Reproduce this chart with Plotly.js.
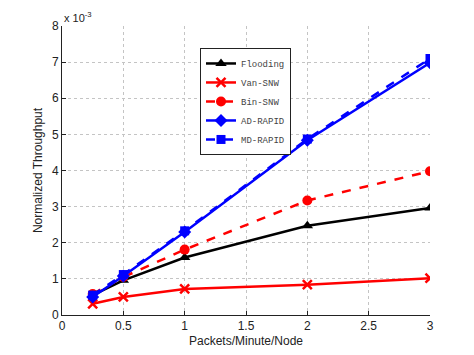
<!DOCTYPE html>
<html>
<head>
<meta charset="utf-8">
<script src="https://cdn.plot.ly/plotly-3.0.1.min.js"></script>
<style>html,body{margin:0;padding:0;background:#fff;}#chart{width:474px;height:355px;}</style>
</head>
<body>
<div id="chart"></div>
<script>
const xValues = [0.25, 0.5, 1, 2, 3];
const flooding = [0.55, 0.96, 1.59, 2.47, 2.96];
const vanSNW = [0.31, 0.5, 0.72, 0.84, 1.02];
const binSNW = [0.58, 1.05, 1.81, 3.17, 3.98];
const adRAPID = [0.5, 1.08, 2.3, 4.84, 6.98];
const mdRAPID = [0.55, 1.12, 2.33, 4.87, 7.1];
const seriesNames = ["Flooding", "Van-SNW", "Bin-SNW", "AD-RAPID", "MD-RAPID"];
const xTicks = [0, 0.5, 1, 1.5, 2, 2.5, 3];
const xTickLabels = ["0", "0.5", "1", "1.5", "2", "2.5", "3"];
const yTicks = [0, 1, 2, 3, 4, 5, 6, 7, 8];

const red = "#ff0000", blue = "#0000ff", black = "#000000";
const traces = [
  {x: xValues, y: flooding, name: seriesNames[0], mode: "lines+markers",
   line: {color: black, width: 2.5}, marker: {symbol: "triangle-up", size: 10, color: black}},
  {x: xValues, y: vanSNW, name: seriesNames[1], mode: "lines+markers",
   line: {color: red, width: 2.5}, marker: {symbol: "x-thin-open", size: 9, color: red, line: {color: red, width: 2.5}}},
  {x: xValues, y: binSNW, name: seriesNames[2], mode: "lines+markers",
   line: {color: red, width: 2.5, dash: "dash"}, marker: {symbol: "circle", size: 10, color: red}},
  {x: xValues, y: adRAPID, name: seriesNames[3], mode: "lines+markers",
   line: {color: blue, width: 2.5}, marker: {symbol: "diamond", size: 10, color: blue}},
  {x: xValues, y: mdRAPID, name: seriesNames[4], mode: "lines+markers",
   line: {color: blue, width: 2.5, dash: "dash"}, marker: {symbol: "square", size: 9, color: blue}}
];

const layout = {
  width: 474, height: 355,
  margin: {l: 62, r: 44, t: 26, b: 40},
  paper_bgcolor: "#fff", plot_bgcolor: "#fff",
  font: {family: "Liberation Sans, Arial, sans-serif", size: 12, color: "#222"},
  showlegend: true,
  legend: {x: 0.375, y: 0.924, xanchor: "left", yanchor: "top",
    bgcolor: "#fff", bordercolor: "#222", borderwidth: 1,
    font: {family: "Liberation Mono, Courier New, monospace", size: 9, color: "#444"},
    tracegroupgap: 0, itemwidth: 30},
  xaxis: {range: [0, 3], tickvals: xTicks, ticktext: xTickLabels,
    showgrid: true, gridcolor: "#c4c4c4", griddash: "dot", gridwidth: 1,
    zeroline: false, showline: true, linecolor: "#222", linewidth: 1,
    ticks: "inside", ticklen: 4, tickcolor: "#222",
    title: {text: "Packets/Minute/Node", font: {size: 12, color: "#222"}, standoff: 4}},
  yaxis: {range: [0, 8], tickvals: yTicks,
    showgrid: true, gridcolor: "#c4c4c4", griddash: "dot", gridwidth: 1,
    zeroline: false, showline: true, linecolor: "#222", linewidth: 1,
    ticks: "inside", ticklen: 4, tickcolor: "#222",
    title: {text: "Normalized Throughput", font: {size: 12, color: "#222"}, standoff: 6}},
  annotations: [{xref: "paper", yref: "paper", x: 0, y: 1, xanchor: "left", yanchor: "bottom",
    text: "x 10<sup>-3</sup>", showarrow: false, font: {size: 11, color: "#222"}, yshift: 0}]
};

Plotly.newPlot("chart", traces, layout, {displayModeBar: false, staticPlot: true});
</script>
</body>
</html>
